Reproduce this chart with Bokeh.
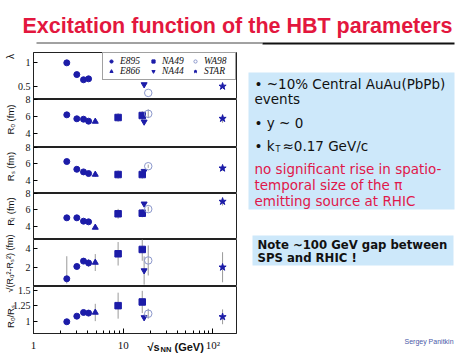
from bokeh.plotting import figure
from bokeh.models import Range1d, FixedTicker, Legend, LegendItem
from bokeh.layouts import column, row
from bokeh.embed import file_html
from bokeh.resources import INLINE
from bokeh.core.properties import value

# ---------------- data ----------------
experiment = ["E895", "E895", "E895", "E895", "E866", "NA49", "NA49", "NA44", "WA98", "STAR"]
sqrt_s_nn = [2.35, 3.04, 3.61, 4.11, 4.88, 8.77, 16.3, 17.1, 19.0, 128.0]

lam = [1.0, 0.75, 0.64, 0.66, None, None, None, 0.54, 0.36, 0.50]

R_out = [6.21, 5.75, 5.70, 5.47, 5.43, 5.90, 6.13, 5.40, 6.33, 5.78]
R_out_err = [0.1, 0.1, 0.1, 0.1, 0.1, 0.5, 0.5, 0.1, 0.5, 0.5]

R_side = [6.29, 5.35, 5.03, 4.83, 4.71, 4.71, 4.71, 5.12, 5.72, 5.48]
R_side_err = [0.1, 0.1, 0.1, 0.1, 0.3, 0.5, 0.5, 0.1, 0.2, 0.3]

R_long = [5.04, 5.04, 4.63, 4.55, 3.86, 5.53, 5.60, 6.75, 6.10, 7.03]
R_long_err = [0.1, 0.1, 0.1, 0.1, 0.15, 0.6, 0.5, 0.15, 0.3, 0.5]

R_diff = [0.82, 2.13, 2.70, 2.50, 2.55, 3.48, 3.94, 1.70, 2.77, 2.05]
R_diff_err_hi = [2.4, 0.3, 0.3, 0.4, 0.9, 1.25, 1.1, 1.5, 1.6, 1.6]
R_diff_err_lo = [0.5, 0.3, 0.3, 0.4, 0.9, 1.25, 1.2, 1.5, 1.6, 1.6]

R_ratio = [0.99, 1.08, 1.14, 1.13, 1.14, 1.25, 1.31, 1.06, 1.12, 1.07]
R_ratio_err = [0.02, 0.02, 0.03, 0.05, 0.14, 0.21, 0.18, 0.05, 0.08, 0.12]

x_tick_labels = {1: "1", 10: "10", 100: "10\u00b2"}

# ---------------- styles ----------------
BLUE = "#1c1ca8"
ERR = "#9a9a9a"
STYLE = {
    "E895": dict(marker="circle", size=6, fill_color=BLUE, line_color=BLUE),
    "E866": dict(marker="triangle", size=6, fill_color=BLUE, line_color=BLUE),
    "NA49": dict(marker="square", size=6.5, fill_color=BLUE, line_color=BLUE),
    "NA44": dict(marker="inverted_triangle", size=6, fill_color=BLUE, line_color=BLUE),
    "WA98": dict(marker="circle", size=7.5, fill_color=None, line_color="#8c98cc"),
    "STAR": dict(marker="star", size=7.5, fill_color=BLUE, line_color=BLUE),
}
ORDER = ["E895", "E866", "NA49", "NA44", "WA98", "STAR"]

xr = Range1d(1, 183)


def make_panel(h, y0, y1, ticks, top, bottom, show_x=False):
    p = figure(width=240, height=h, x_axis_type="log", x_range=xr,
               y_range=Range1d(y0, y1), output_backend="svg", toolbar_location=None,
               min_border_left=33, min_border_right=4, min_border_top=top,
               min_border_bottom=bottom,
               x_axis_location="below" if show_x else None)
    p.xgrid.visible = False
    p.ygrid.visible = False
    p.outline_line_color = "#222222"
    p.outline_line_width = 1
    p.background_fill_alpha = 0
    p.border_fill_alpha = 0
    ya = p.yaxis[0]
    ya.ticker = FixedTicker(ticks=ticks, minor_ticks=[])
    ya.major_tick_in = 4
    ya.major_tick_out = 0
    ya.axis_line_color = "#222222"
    ya.major_label_text_font = "Liberation Serif"
    ya.major_label_text_font_size = "10px"
    ya.major_label_text_color = "#111111"
    ya.major_label_standoff = 3
    return p


def add_series(p, values, err_lo=None, err_hi=None):
    rends = {}
    for ex in ORDER:
        idx = [i for i, e in enumerate(experiment) if e == ex]
        xs = [sqrt_s_nn[i] for i in idx]
        ys = [float("nan") if values[i] is None else values[i] for i in idx]
        if err_lo is not None:
            lo = [values[i] - err_lo[i] for i in idx]
            hi = [values[i] + err_hi[i] for i in idx]
            p.segment(x0=xs, y0=lo, x1=xs, y1=hi, line_color=ERR, line_width=1)
        rends[ex] = p.scatter(xs, ys, **STYLE[ex])
    return rends


# panel 1: lambda
p1 = make_panel(47, 0.22, 1.22, [0.5, 1], 0, 0)
r1 = add_series(p1, lam)
items = [LegendItem(label=ex, renderers=[r1[ex]]) for ex in ORDER]
leg = Legend(items=items, location="top_right", ncols=3, margin=0, padding=3,
             spacing=0, glyph_width=10, glyph_height=8, label_height=8,
             label_standoff=4, label_width=28,
             label_text_font="Liberation Serif", label_text_font_style="italic",
             label_text_font_size="9.5px", label_text_color="#111111",
             border_line_color="#444444", border_line_width=1,
             background_fill_color="white", background_fill_alpha=1)
p1.add_layout(leg)

# panel 2: R_out
p2 = make_panel(54, 2.4, 8, [4, 6, 8], 6, 0)
add_series(p2, R_out, R_out_err, R_out_err)

# panel 3: R_side
p3 = make_panel(52, 2.4, 8, [4, 6, 8], 6, 0)
add_series(p3, R_side, R_side_err, R_side_err)

# panel 4: R_long
p4 = make_panel(52, 2.4, 8, [4, 6, 8], 6, 0)
add_series(p4, R_long, R_long_err, R_long_err)

# panel 5: sqrt(Ro^2 - Rs^2)
p5 = make_panel(53, 0, 5, [2, 4], 6, 0)
add_series(p5, R_diff, R_diff_err_lo, R_diff_err_hi)

# panel 6: Ro/Rs
p6 = make_panel(75, 0.8, 1.56, [1, 1.25, 1.5], 6, 22, show_x=True)
add_series(p6, R_ratio, R_ratio_err, R_ratio_err)
xa = p6.xaxis[0]
xa.ticker = FixedTicker(ticks=[1, 10, 100],
                        minor_ticks=[2, 3, 4, 5, 6, 7, 8, 9, 20, 30, 40, 50, 60, 70, 80, 90])
xa.major_label_overrides = x_tick_labels
xa.major_tick_in = 5
xa.major_tick_out = 0
xa.minor_tick_in = 3
xa.minor_tick_out = 0
xa.axis_line_color = "#222222"
xa.major_label_text_font = "Liberation Serif"
xa.major_label_text_font_size = "11px"
xa.major_label_text_color = "#111111"
xa.major_label_standoff = 5

for p in (p2, p3, p4, p5, p6):
    p.styles = {"margin-top": "-6px"}

left = column(p1, p2, p3, p4, p5, p6, spacing=0)
left.styles = {"margin-left": "-240px"}

# ---------------- axis titles (page-coordinate overlay under the panels) ----------------
lf = figure(width=240, height=303, x_range=Range1d(0, 240), y_range=Range1d(355, 52),
            output_backend="svg", toolbar_location=None, min_border=0,
            x_axis_location=None, y_axis_location=None)
lf.xgrid.visible = False
lf.ygrid.visible = False
lf.outline_line_color = None
lf.background_fill_alpha = 0
lf.border_fill_alpha = 0


def ltext(x, y, s, size="9.5px", angle=90, style="normal", align="center"):
    lf.text(x=[x], y=[y], text=[s], angle=angle, angle_units="deg",
            text_font=value("Liberation Sans"), text_font_size=value(size),
            text_font_style=style, text_color="#111111", text_baseline="middle",
            text_align=align)


ltext(9.5, 56, "\u03bb", size="10px")
ltext(9.5, 119, "R\u2092 (fm)")
ltext(9.5, 166, "R\u209b (fm)")
ltext(9.5, 211, "R\u2097 (fm)")
ltext(9.5, 263, "\u221a(R\u2092\u00b2-R\u209b\u00b2) (fm)", size="9px")
ltext(9.5, 316, "R\u2092/R\u209b")
ltext(147, 346, "\u221as", size="11px", angle=0, style="bold", align="left")
ltext(160, 349, "NN", size="7.5px", angle=0, style="bold", align="left")
ltext(174, 346, "(GeV)", size="11px", angle=0, style="bold", align="left")

# ---------------- title strip ----------------
tf = figure(width=474, height=52, x_range=Range1d(0, 474), y_range=Range1d(52, 0),
            output_backend="svg", toolbar_location=None, min_border=0,
            x_axis_location=None, y_axis_location=None)
tf.xgrid.visible = False
tf.ygrid.visible = False
tf.outline_line_color = None
tf.text(x=[22], y=[25], text=["Excitation function of the HBT parameters"],
        text_font=value("Liberation Sans"), text_font_size=value("21.5px"),
        text_font_style="bold", text_color="#e3173e", text_baseline="middle",
        text_align="left")
tf.segment(x0=[36], y0=[42.5], x1=[262], y1=[42.5], line_color="#444444", line_width=1)
tf.segment(x0=[262], y0=[43], x1=[454], y1=[43], line_color="#111111", line_width=2)

# ---------------- right side text ----------------
rf = figure(width=234, height=303, x_range=Range1d(240, 474), y_range=Range1d(355, 52),
            output_backend="svg", toolbar_location=None, min_border=0,
            x_axis_location=None, y_axis_location=None)
rf.xgrid.visible = False
rf.ygrid.visible = False
rf.outline_line_color = None
rf.quad(left=[248], right=[454], top=[72], bottom=[209], fill_color="#cde8fa",
        line_color=None)
rf.quad(left=[252], right=[453], top=[235], bottom=[265], fill_color="#cde8fa",
        line_color=None)


def rtext(x, y, s, size="13.5px", color="#111111", style="normal", font="DejaVu Sans"):
    rf.text(x=[x], y=[y], text=[s], text_font=value(font), text_font_size=value(size),
            text_font_style=style, text_color=color, text_baseline="middle",
            text_align="left")


rtext(254, 83, "\u2022 ~10% Central AuAu(PbPb)")
rtext(254, 98, "events")
rtext(254, 122, "\u2022 y ~ 0")
rtext(254, 145, "\u2022 k")
rtext(275, 149, "T", size="8px")
rtext(282, 145, "\u22480.17 GeV/c")
RED = "#e0174a"
rtext(254, 168, "no significant rise in spatio-", color=RED)
rtext(254, 184, "temporal size of the \u03c0", color=RED)
rtext(254, 200, "emitting source at RHIC", color=RED)
rtext(257, 244, "Note ~100 GeV gap between", size="11.7px", style="bold")
rtext(257, 257, "SPS and RHIC !", size="11.7px", style="bold")
rtext(404, 341, "Sergey  Panitkin", size="7px", color="#4a5aa8", font="Liberation Sans")

layout = column(tf, row(lf, left, rf, spacing=0), spacing=0)

open("out.html", "w").write(file_html(layout, INLINE))
